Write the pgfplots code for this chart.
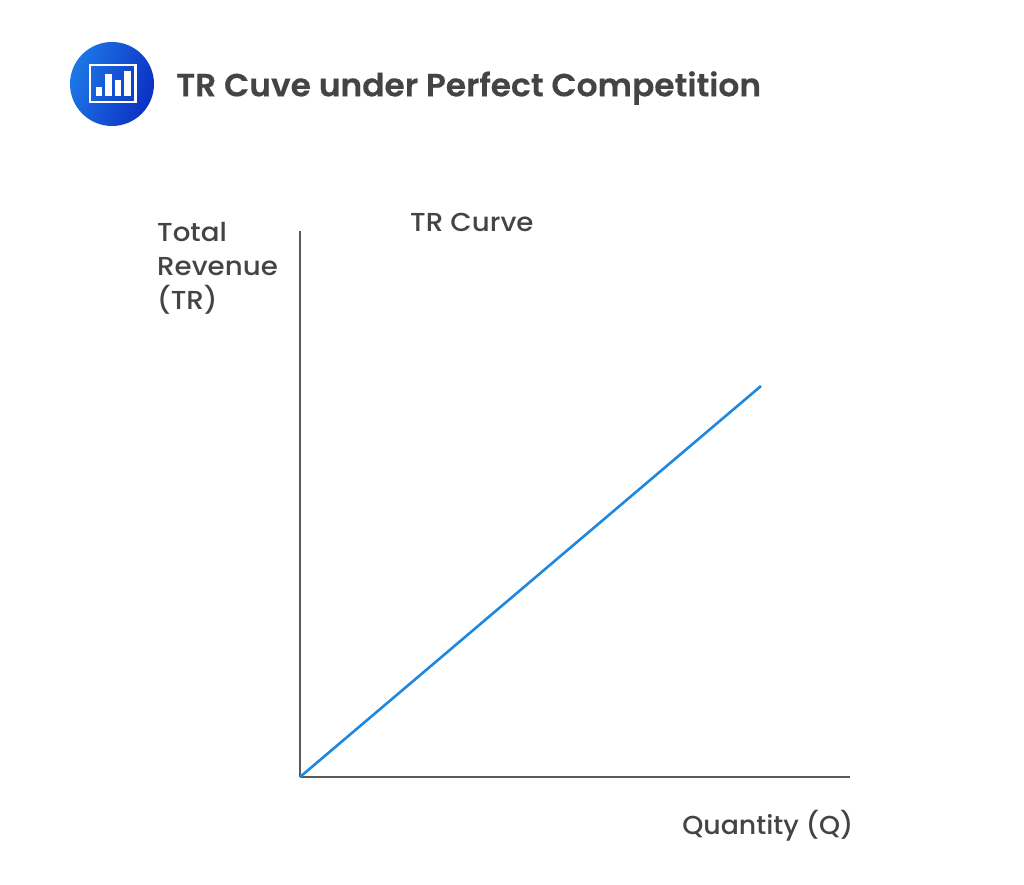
\documentclass[border=0pt]{standalone}
\usepackage{pgfplots}
\pgfplotsset{compat=1.18}
\usepackage{fontspec}
\setmainfont{Poppins}
\newfontfamily\bodyf[FakeStretch=1.065]{Poppins Medium}
\newfontfamily\qf[FakeStretch=1.03]{Poppins Medium}
\newfontfamily\titlef[FakeStretch=1.027,FakeBold=0.3]{Poppins SemiBold}
\definecolor{txt}{HTML}{444444}
\definecolor{axc}{HTML}{5A5A5A}
\definecolor{ln}{HTML}{1E88E0}
\definecolor{icA}{HTML}{1E78E6}
\definecolor{icB}{HTML}{0B30C4}
\begin{document}
\begin{tikzpicture}[x=1pt,y=1pt]
\path[use as bounding box] (0,0) rectangle (1024,884);
\begin{axis}[at={(300,107)},anchor=south west,width=550pt,height=546pt,scale only axis,
xmin=0,xmax=550,ymin=0,ymax=546,axis lines=left,axis line style={axc,line width=2.2pt,-},ticks=none]
\addplot[ln,line width=2.6pt] coordinates {(0,0)(461,391)};
\end{axis}
\shade[left color=icA,right color=icB,shading angle=70] (112,800) circle (42);
\draw[white,line width=2.8pt] (90,782) rectangle (135.5,819);
\fill[white] (96,788) rectangle (102,797);
\fill[white] (105,788) rectangle (112,810);
\fill[white] (114.5,788) rectangle (121,804);
\fill[white] (124,788) rectangle (131,813);
\node[anchor=west,inner sep=0pt,text=txt,font=\fontsize{32}{36}\titlef] at (176,796) {TR Cuve under Perfect Competition};
\node[anchor=west,inner sep=0pt,text=txt,font=\fontsize{26}{30}\bodyf] at (410,662) {TR Curve};
\node[anchor=west,inner sep=0pt,text=txt,font=\fontsize{26}{30}\bodyf] at (157,652) {Total};
\node[anchor=west,inner sep=0pt,text=txt,font=\fontsize{26}{30}\bodyf] at (157,617.5) {Revenue};
\node[anchor=west,inner sep=0pt,text=txt,font=\fontsize{26}{30}\bodyf] at (157,584) {(TR)};
\node[anchor=east,inner sep=0pt,text=txt,font=\fontsize{26}{30}\qf] at (853.5,58) {Quantity (Q)};
\end{tikzpicture}
\end{document}
